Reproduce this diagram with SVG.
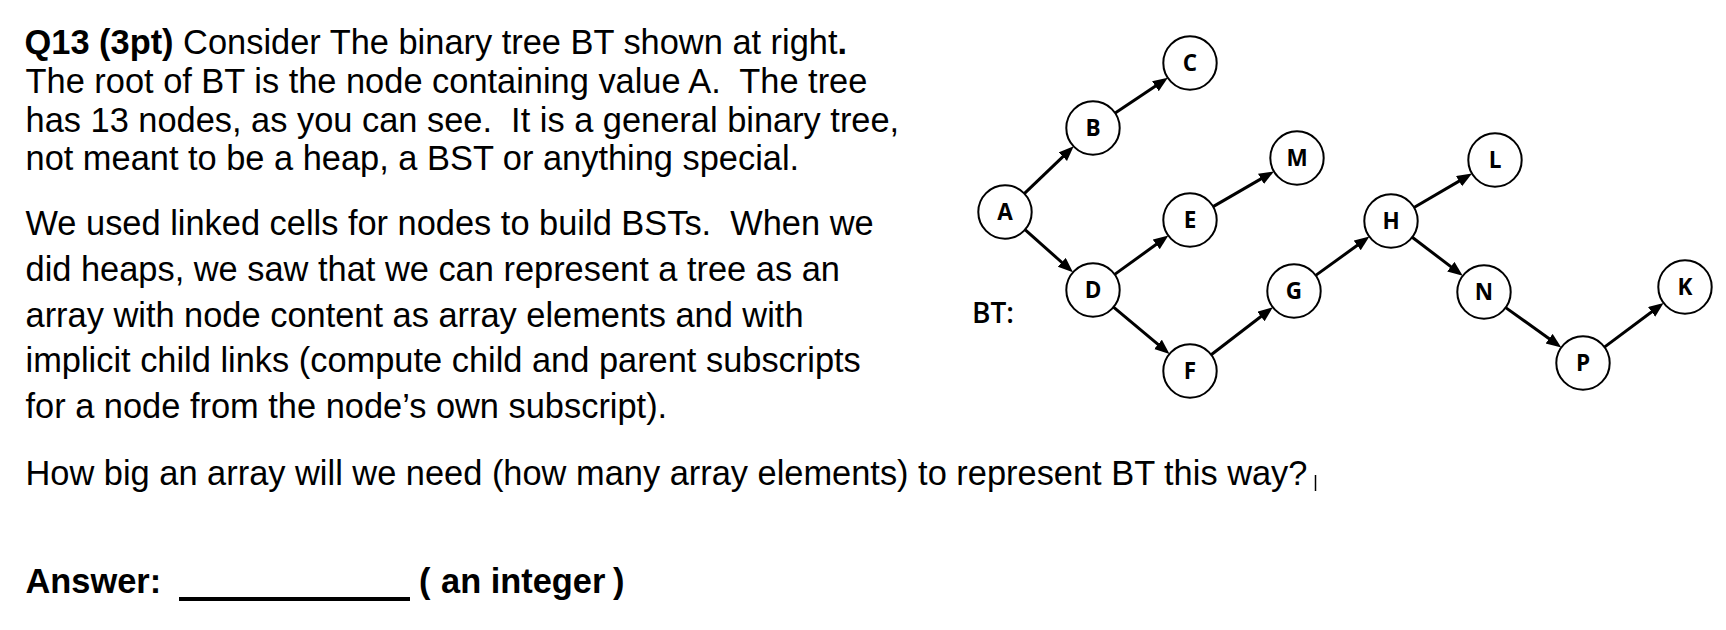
<svg xmlns="http://www.w3.org/2000/svg" width="1726" height="630" viewBox="0 0 1726 630">
<style>
.t{font-family:"Liberation Sans",Arial,sans-serif;font-size:34.4px;fill:#000;white-space:pre}
.b{font-weight:bold}
.n circle{fill:#fff;stroke:#000;stroke-width:2}
.n text{font-family:"Open Sans","Noto Sans",sans-serif;font-weight:700;font-size:22.5px;text-anchor:middle;fill:#000}
.e line{stroke:#000;stroke-width:3}
</style>
<defs>
<marker id="ah" markerUnits="userSpaceOnUse" markerWidth="16" markerHeight="13" refX="7" refY="6" orient="auto">
<path d="M0,0 L15,6 L0,12 z" fill="#000"/>
</marker>
</defs>
<rect width="1726" height="630" fill="#fff"/>

<g id="question">
<text class="t" x="24.5" y="54"><tspan class="b">Q13 (3pt)</tspan> Consider The binary tree BT shown at right<tspan class="b">.</tspan></text>
<text class="t" x="25.5" y="93">The root of BT is the node containing value A.  The tree</text>
<text class="t" x="25.5" y="131.5">has 13 nodes, as you can see.  It is a general binary tree,</text>
<text class="t" x="25.5" y="170">not meant to be a heap, a BST or anything special.</text>
<text class="t" x="25.5" y="235">We used linked cells for nodes to build BSTs.  When we</text>
<text class="t" x="25.5" y="281">did heaps, we saw that we can represent a tree as an</text>
<text class="t" x="25.5" y="326.5">array with node content as array elements and with</text>
<text class="t" x="25.5" y="372">implicit child links (compute child and parent subscripts</text>
<text class="t" x="25.5" y="418">for a node from the node’s own subscript).</text>
<text class="t" x="25.5" y="485">How big an array will we need (how many array elements) to represent BT this way?</text>
<line x1="1315.5" y1="475" x2="1315.5" y2="491" stroke="#000" stroke-width="1.5"/>
</g>

<g id="answer">
<text class="t b" x="25.5" y="593">Answer:</text>
<rect x="179" y="597" width="231" height="4" fill="#000"/>
<text class="t b" x="419" y="593">(</text>
<text class="t b" x="441" y="593">an integer</text>
<text class="t b" x="613" y="593">)</text>
</g>

<text x="972" y="323" font-family="Open Sans, Noto Sans, sans-serif" font-weight="600" font-size="28" fill="#000">BT:</text>

<g id="edges" class="e">
<line x1="1024.3" y1="193.6" x2="1067.9" y2="151.9" marker-end="url(#ah)"/>
<line x1="1115.2" y1="113.1" x2="1161.2" y2="82.3" marker-end="url(#ah)"/>
<line x1="1025.0" y1="229.7" x2="1067.0" y2="267.0" marker-end="url(#ah)"/>
<line x1="1114.7" y1="274.4" x2="1161.9" y2="240.3" marker-end="url(#ah)"/>
<line x1="1213.1" y1="206.6" x2="1267.0" y2="175.4" marker-end="url(#ah)"/>
<line x1="1113.5" y1="307.1" x2="1163.4" y2="348.8" marker-end="url(#ah)"/>
<line x1="1211.2" y1="354.7" x2="1266.5" y2="312.2" marker-end="url(#ah)"/>
<line x1="1315.7" y1="275.4" x2="1362.9" y2="241.3" marker-end="url(#ah)"/>
<line x1="1414.0" y1="207.5" x2="1465.1" y2="177.6" marker-end="url(#ah)"/>
<line x1="1412.2" y1="237.2" x2="1456.4" y2="270.9" marker-end="url(#ah)"/>
<line x1="1505.7" y1="307.6" x2="1554.8" y2="342.8" marker-end="url(#ah)"/>
<line x1="1604.4" y1="347.1" x2="1657.2" y2="307.7" marker-end="url(#ah)"/>
</g>

<g id="node-A" class="n"><circle cx="1005" cy="212" r="26.7"/><text x="1005" y="220">A</text></g>
<g id="node-B" class="n"><circle cx="1093" cy="128" r="26.7"/><text x="1093" y="136">B</text></g>
<g id="node-C" class="n"><circle cx="1190" cy="63" r="26.7"/><text x="1190" y="71">C</text></g>
<g id="node-D" class="n"><circle cx="1093" cy="290" r="26.7"/><text x="1093" y="298">D</text></g>
<g id="node-E" class="n"><circle cx="1190" cy="220" r="26.7"/><text x="1190" y="228">E</text></g>
<g id="node-M" class="n"><circle cx="1297" cy="158" r="26.7"/><text x="1297" y="166">M</text></g>
<g id="node-F" class="n"><circle cx="1190" cy="371" r="26.7"/><text x="1190" y="379">F</text></g>
<g id="node-G" class="n"><circle cx="1294" cy="291" r="26.7"/><text x="1294" y="299">G</text></g>
<g id="node-H" class="n"><circle cx="1391" cy="221" r="26.7"/><text x="1391" y="229">H</text></g>
<g id="node-L" class="n"><circle cx="1495" cy="160" r="26.7"/><text x="1495" y="168">L</text></g>
<g id="node-N" class="n"><circle cx="1484" cy="292" r="26.7"/><text x="1484" y="300">N</text></g>
<g id="node-P" class="n"><circle cx="1583" cy="363" r="26.7"/><text x="1583" y="371">P</text></g>
<g id="node-K" class="n"><circle cx="1685" cy="287" r="26.7"/><text x="1685" y="295">K</text></g>
</svg>
